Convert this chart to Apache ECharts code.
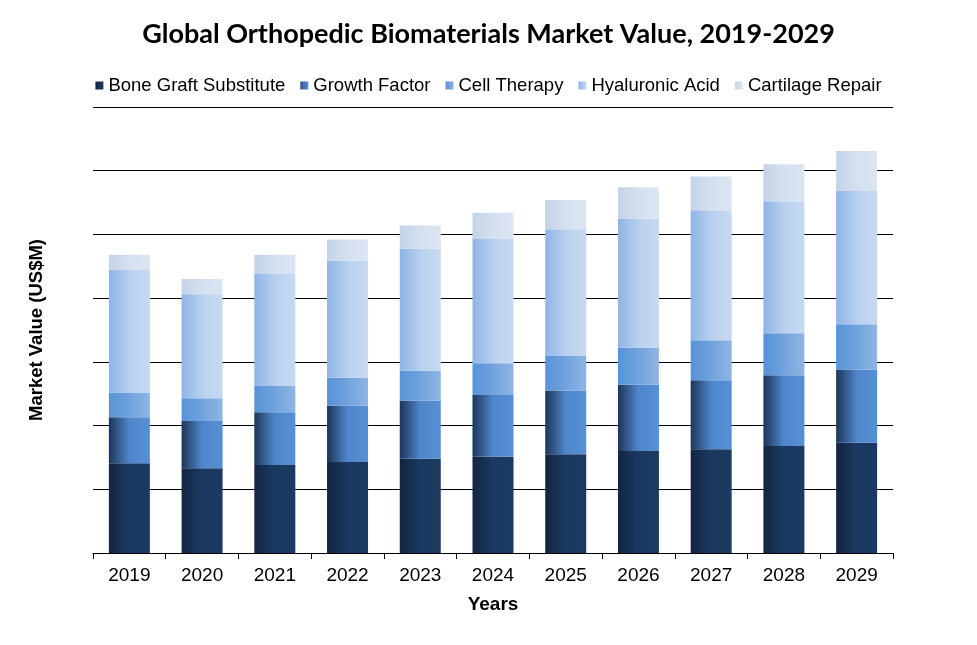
<!DOCTYPE html>
<html>
<head>
<meta charset="utf-8">
<script src="https://cdn.jsdelivr.net/npm/echarts@6/dist/echarts.min.js"></script>
<style>
html,body{margin:0;padding:0;background:#fff;}
#chart{width:977px;height:645px;}
</style>
</head>
<body>
<div id="chart"></div>
<script>
const years = ['2019','2020','2021','2022','2023','2024','2025','2026','2027','2028','2029'];
const boneGraft  = [141,133,138,143,148,151,155,160,163,168,173];
const growthFactor = [72,74,83,88,91,97,100,104,108,111,115];
const cellTherapy = [39,36,41,44,47,50,55,58,63,66,71];
const hyaluronicAcid = [192,163,176,184,192,195,198,203,204,207,209];
const cartilageRepair = [24,24,30,33,36,41,46,49,53,58,63];
const seriesNames = ['Bone Graft Substitute','Growth Factor','Cell Therapy','Hyaluronic Acid','Cartilage Repair'];

function grad(stops){
  return new echarts.graphic.LinearGradient(0,0,1,0, stops.map(s=>({offset:s[0],color:s[1]})));
}
const fills = [
  grad([[0,'#132440'],[0.45,'#1a3860'],[1,'#1b3a62']]),
  grad([[0,'#1c3659'],[0.5,'#4f86cb'],[1,'#5790d6']]),
  grad([[0,'#5893d8'],[0.4,'#6a9fdc'],[1,'#90b5e3']]),
  grad([[0,'#8eb4e6'],[0.55,'#bbd2ef'],[1,'#c7d9f0']]),
  grad([[0,'#c3d3e8'],[0.5,'#d5e0ef'],[1,'#dce6f2']])
];
const legendFills = [
  grad([[0,'#14253f'],[1,'#1b3a62']]),
  grad([[0,'#2d5590'],[1,'#5790d6']]),
  grad([[0,'#5893d8'],[1,'#8db3e3']]),
  grad([[0,'#8eb4e6'],[1,'#c4d7f0']]),
  grad([[0,'#c3d3e8'],[1,'#dce6f2']])
];
const dataSets = [boneGraft, growthFactor, cellTherapy, hyaluronicAcid, cartilageRepair];

const chart = echarts.init(document.getElementById('chart'), null, {renderer:'canvas'});
chart.setOption({
  animation:false,
  backgroundColor:'#fff',
  title:{
    text:'Global Orthopedic Biomaterials Market Value, 2019-2029',
    left:'center', top:16,
    textStyle:{fontFamily:'Lato', fontWeight:'bold', fontSize:27, color:'#000'}
  },
  legend:{
    top:71, left:'center',
    itemWidth:8, itemHeight:8, itemGap:15,
    icon:'rect',
    textStyle:{fontFamily:'Liberation Sans', fontSize:18.5, color:'#000', padding:[0,0,0,0]},
    data:seriesNames.map((n,i)=>({name:n, itemStyle:{color:legendFills[i]}}))
  },
  grid:{left:93, right:84, top:107, bottom:92, containLabel:false},
  xAxis:{
    type:'category', data:years,
    name:'Years', nameLocation:'middle', nameGap:42,
    nameTextStyle:{fontFamily:'Liberation Sans', fontWeight:'bold', fontSize:19, color:'#000'},
    axisLine:{lineStyle:{color:'#000', width:1}},
    axisTick:{show:true, length:6, lineStyle:{color:'#000'}},
    axisLabel:{fontFamily:'Liberation Sans', fontSize:19, color:'#000', margin:13}
  },
  yAxis:{
    type:'value', min:0, max:700, interval:100,
    name:'Market Value (US$M)', nameLocation:'middle', nameGap:47, nameRotate:90,
    nameTextStyle:{fontFamily:'Liberation Sans', fontWeight:'bold', fontSize:18.5, color:'#000'},
    axisLine:{show:false}, axisTick:{show:false}, axisLabel:{show:false},
    splitLine:{lineStyle:{color:'#000', width:1}}
  },
  series:dataSets.map((d,i)=>({
    name:seriesNames[i], type:'bar', stack:'total', barWidth:41,
    data:d, itemStyle:{color:fills[i]}
  }))
});
</script>
</body>
</html>
